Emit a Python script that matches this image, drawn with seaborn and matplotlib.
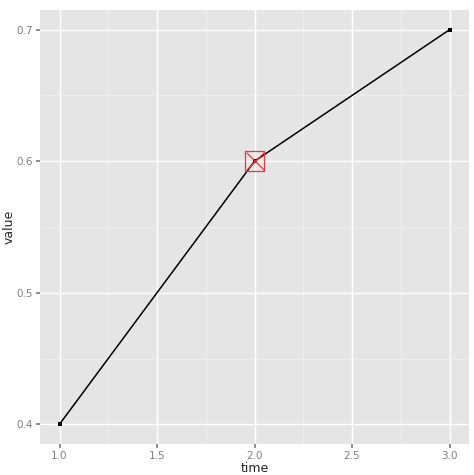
import matplotlib
matplotlib.use("Agg")
import matplotlib.pyplot as plt
import seaborn as sns
import pandas as pd

time = [1.0, 2.0, 3.0]
value = [0.4, 0.6, 0.7]
hl_time = [2.0]
hl_value = [0.6]

df = pd.DataFrame({"time": time, "value": value})
hl = pd.DataFrame({"time": hl_time, "value": hl_value})

sns.set_theme(style="darkgrid", rc={
    "axes.facecolor": "#E5E5E5",
    "grid.color": "white",
    "axes.edgecolor": "#E5E5E5",
})
plt.rcParams['font.family'] = ['DejaVu Sans']

fig = plt.figure(figsize=(4.74, 4.75), dpi=100)
ax = fig.add_axes([40 / 474, 31 / 475, 429 / 474, 434 / 475])

sns.lineplot(data=df, x="time", y="value", color="black", lw=1.1, ax=ax,
             marker="s", markersize=2.5, markeredgewidth=0)
sns.scatterplot(data=hl, x="time", y="value", marker="s", s=200,
                facecolor="none", edgecolor="#E8393A", linewidth=0.9, ax=ax, zorder=4)
sns.scatterplot(data=hl, x="time", y="value", marker="x", s=160,
                color="#E8393A", linewidth=0.9, ax=ax, zorder=4)

ax.set_xlim(0.9, 3.1)
ax.set_ylim(0.385, 0.715)
ax.set_xticks([1.0, 1.5, 2.0, 2.5, 3.0])
ax.set_yticks([0.4, 0.5, 0.6, 0.7])
ax.set_xticks([1.25, 1.75, 2.25, 2.75], minor=True)
ax.set_yticks([0.45, 0.55, 0.65], minor=True)
ax.grid(which="major", color="white", lw=1.0)
ax.grid(which="minor", color="#F2F2F2", lw=0.5)
ax.tick_params(which="major", length=3, color="#7F7F7F", labelsize=7.5,
               labelcolor="#7F7F7F", bottom=True, left=True, pad=2)
ax.tick_params(which="minor", length=0)
for s in ax.spines.values():
    s.set_visible(False)
ax.set_xlabel("time", fontsize=9, labelpad=1)
ax.set_ylabel("value", fontsize=9, labelpad=1)

fig.savefig("out.png", dpi=100)
